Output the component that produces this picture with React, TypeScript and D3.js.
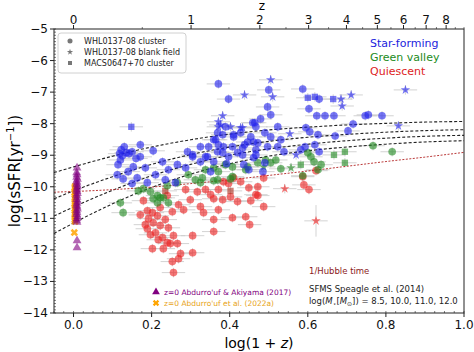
import React from "react";
import * as d3 from "d3";

// ---- data (log(1+z), log sSFR) ----
const blueCircles = [
  [0.122, -8.83], [0.130, -8.73], [0.135, -8.92], [0.120, -9.15], [0.150, -8.89],
  [0.153, -9.37], [0.171, -9.05], [0.204, -8.86], [0.228, -9.21], [0.243, -9.46],
  [0.266, -9.30], [0.287, -9.40], [0.305, -8.99], [0.325, -8.73], [0.338, -9.05],
  [0.359, -8.51], [0.127, -9.75], [0.150, -9.90], [0.189, -9.87], [0.114, -9.30],
  [0.140, -9.52], [0.163, -9.72], [0.184, -9.40], [0.210, -9.62], [0.235, -9.78],
  [0.261, -9.87], [0.171, -8.67], [0.112, -9.62], [0.371, -6.74], [0.397, -7.22],
  [0.410, -8.42], [0.500, -6.93], [0.587, -6.90], [0.629, -7.22], [0.603, -7.53],
  [0.623, -7.75], [0.644, -7.75], [0.667, -7.75], [0.747, -7.75], [0.755, -7.72],
  [0.790, -7.75], [0.716, -8.01], [0.703, -8.23], [0.670, -8.39], [0.626, -8.35],
  [0.595, -8.13], [0.605, -8.26], [0.523, -8.10], [0.505, -7.72], [0.497, -7.47],
  [0.479, -7.85], [0.464, -7.97], [0.454, -8.42], [0.490, -8.29], [0.505, -8.42],
  [0.531, -8.51], [0.438, -8.67], [0.472, -8.61], [0.497, -8.73], [0.523, -8.73],
  [0.593, -8.73], [0.618, -8.67], [0.433, -8.99], [0.467, -8.99], [0.490, -9.24],
  [0.389, -8.10], [0.459, -7.97], [0.467, -8.10], [0.369, -8.29], [0.382, -8.35],
  [0.410, -8.35], [0.428, -8.29], [0.446, -8.58], [0.461, -8.58], [0.364, -8.51],
  [0.371, -8.67], [0.384, -8.73], [0.407, -8.73], [0.433, -8.77], [0.369, -8.89],
  [0.382, -8.92], [0.397, -9.05], [0.467, -8.83], [0.461, -9.08], [0.346, -8.73],
  [0.305, -9.05], [0.325, -9.21], [0.292, -8.89], [0.343, -9.05], [0.359, -9.21],
  [0.436, -9.30], [0.420, -8.92], [0.351, -9.52], [0.392, -9.27], [0.582, -8.83],
  [0.629, -8.89], [0.539, -8.89], [0.485, -9.52], [0.449, -9.46],
  [0.125, -9.02], [0.142, -8.95], [0.118, -8.95], [0.160, -9.10],
];
const blueStars = [
  [0.382, -7.75], [0.377, -8.04], [0.402, -8.10], [0.505, -6.61], [0.510, -7.15],
  [0.438, -7.09], [0.685, -7.22], [0.711, -7.09], [0.688, -7.44], [0.850, -6.93],
  [0.832, -8.07], [0.428, -8.13], [0.554, -8.32], [0.371, -7.94], [0.371, -8.10],
  [0.433, -8.13], [0.570, -8.99],
];
const blueSquares = [[0.148, -8.10], [0.600, -7.18], [0.618, -7.15], [0.665, -7.22]];

const greenCircles = [
  [0.120, -10.51], [0.127, -10.82], [0.179, -10.06], [0.204, -10.38], [0.215, -10.28],
  [0.230, -10.35], [0.243, -10.51], [0.240, -9.97], [0.266, -9.87], [0.325, -9.87],
  [0.359, -9.81], [0.402, -9.75], [0.767, -8.70], [0.816, -8.89], [0.634, -9.30],
  [0.600, -8.92], [0.531, -9.43], [0.505, -9.24], [0.472, -9.24], [0.446, -9.37],
  [0.626, -9.46], [0.338, -9.46], [0.359, -9.40], [0.371, -9.52], [0.389, -9.30],
  [0.407, -9.37], [0.441, -9.46], [0.312, -9.78], [0.330, -9.72], [0.369, -9.78],
  [0.407, -9.68], [0.294, -9.62], [0.166, -10.13], [0.197, -10.16], [0.222, -10.35],
  [0.215, -10.51], [0.492, -9.15], [0.518, -9.15], [0.608, -9.05], [0.616, -9.21],
  [0.587, -9.65],
];
const greenStars = [[0.557, -9.40], [0.487, -9.37]];
const greenSquares = [[0.667, -8.99], [0.695, -8.89], [0.695, -9.24], [0.582, -9.30]];

const redCircles = [
  [0.189, -10.76], [0.202, -10.82], [0.215, -10.92], [0.192, -11.01], [0.204, -11.14],
  [0.222, -11.23], [0.189, -11.33], [0.210, -11.46], [0.228, -11.61], [0.240, -11.77],
  [0.202, -11.96], [0.230, -11.96], [0.248, -11.80], [0.256, -11.55], [0.266, -11.80],
  [0.274, -12.12], [0.269, -12.28], [0.253, -12.37], [0.256, -12.72], [0.305, -12.09],
  [0.305, -11.55], [0.333, -10.82], [0.359, -10.38], [0.179, -10.44], [0.240, -10.28],
  [0.359, -11.42], [0.359, -11.04], [0.325, -10.63], [0.371, -10.73], [0.382, -10.41],
  [0.407, -10.98], [0.441, -10.95], [0.451, -11.20], [0.420, -10.47], [0.402, -10.32],
  [0.351, -10.25], [0.338, -10.09], [0.317, -10.16], [0.371, -10.09], [0.467, -10.25],
  [0.449, -10.03], [0.472, -10.00], [0.487, -9.72], [0.587, -9.68], [0.590, -9.94],
  [0.603, -10.09], [0.487, -10.63], [0.454, -10.44], [0.472, -10.28], [0.621, -9.49],
  [0.397, -9.90], [0.410, -9.72], [0.384, -9.84], [0.428, -9.84], [0.287, -10.09],
  [0.299, -10.41], [0.269, -10.57], [0.253, -10.79], [0.235, -11.04], [0.171, -10.89],
  [0.184, -11.20], [0.197, -11.52], [0.217, -11.68], [0.282, -10.73], [0.222, -10.66],
  [0.243, -11.30],
];
// third value: y error
const redStars = [[0.541, -10.06, 0.15], [0.621, -11.08, 0.5]];
const redSquares = [[0.402, -10.13], [0.235, -10.13]];

const akiyamaTriangles = [
  [0.009, -9.40], [0.008, -9.55], [0.009, -9.62], [0.008, -9.70], [0.010, -9.76],
  [0.008, -9.82], [0.009, -9.88], [0.008, -9.93], [0.010, -9.98], [0.009, -10.04],
  [0.008, -10.10], [0.009, -10.15], [0.010, -10.21], [0.008, -10.27], [0.009, -10.33],
  [0.008, -10.40], [0.010, -10.46], [0.009, -10.52], [0.008, -10.58], [0.009, -10.64],
  [0.010, -10.70], [0.008, -10.76], [0.009, -10.82], [0.008, -10.88], [0.010, -10.94],
  [0.009, -11.00], [0.008, -11.06], [0.009, -11.12], [0.009, -11.71], [0.009, -11.93],
];
const abdurroufX = [
  [0.004, -9.98], [0.003, -10.03], [0.005, -10.08], [0.004, -10.14], [0.003, -10.19],
  [0.005, -10.25], [0.004, -10.30], [0.003, -10.36], [0.005, -10.42], [0.004, -10.47],
  [0.003, -10.53], [0.005, -10.58], [0.004, -10.64], [0.003, -10.70], [0.005, -10.75],
  [0.004, -10.81], [0.003, -10.87], [0.005, -10.93], [0.004, -10.99], [0.003, -11.05],
  [0.004, -11.10], [0.002, -11.45],
];

// model curves sampled at these log(1+z)
const curveX = [-0.05, 0, 0.1, 0.2, 0.3, 0.4, 0.5, 0.6, 0.7, 0.8, 0.9, 1.0];
const sfms85 = [-9.55, -9.37, -9.03, -8.74, -8.51, -8.33, -8.20, -8.11, -8.04, -7.99, -7.95, -7.93];
const sfms100 = [-10.38, -10.13, -9.68, -9.29, -8.98, -8.74, -8.56, -8.43, -8.34, -8.27, -8.22, -8.19];
const sfms110 = [-10.93, -10.64, -10.11, -9.65, -9.29, -9.00, -8.80, -8.65, -8.54, -8.46, -8.40, -8.37];
const sfms120 = [-11.48, -11.15, -10.54, -10.02, -9.60, -9.27, -9.03, -8.86, -8.74, -8.65, -8.58, -8.54];
const hubble = [-10.17, -10.15, -10.09, -10.01, -9.90, -9.78, -9.64, -9.50, -9.35, -9.20, -9.06, -8.91];

const xTicks = [0.0, 0.2, 0.4, 0.6, 0.8, 1.0];
const yTicks = [-14, -13, -12, -11, -10, -9, -8, -7, -6, -5];
const zTicks = [0, 1, 2, 3, 4, 5, 6, 7, 8];

const XERR = 0.03;
const YERR = 0.15;

const W = 474;
const H = 352;
const L = 54, R = 464, T = 29, B = 313;

const BLUE = "#2222ee";
const GREEN = "#228b22";
const RED = "#ee2222";
const FONT = "DejaVu Sans, sans-serif";

export default function App() {
  const x = d3.scaleLinear().domain([-0.05, 1.0]).range([L, R]);
  const y = d3.scaleLinear().domain([-14, -5]).range([B, T]);

  const circle = d3.symbol().type(d3.symbolCircle).size(46)();
  const star = d3.symbol().type(d3.symbolStar).size(28)();
  const square = d3.symbol().type(d3.symbolSquare).size(40)();
  const tri = d3.symbol().type(d3.symbolTriangle).size(34)();
  const cross = d3.symbol().type(d3.symbolCross).size(34)();

  const line = (ys: number[]) =>
    d3.line<number>().x((_, i) => x(curveX[i])).y((d) => y(d)).curve(d3.curveMonotoneX)(ys) || "";

  const minorX = d3.range(-0.05, 1.0001, 0.025);
  const minorY = d3.range(-14, -4.999, 0.1);
  const minorZ = [0.5, 1.5, 2.5, 3.5, 4.5, 5.5, 6.5, 7.5, 8.5, 9];

  const groups: [number[][], string, string][] = [
    [redCircles, circle, RED], [redSquares, square, "#b03020"], [redStars, star, RED],
    [greenCircles, circle, GREEN], [greenSquares, square, GREEN], [greenStars, star, GREEN],
    [blueCircles, circle, BLUE], [blueSquares, square, BLUE], [blueStars, star, BLUE],
  ];

  return (
    <svg width={W} height={H} style={{ position: "absolute", left: 0, top: 0, background: "#fff" }} fontFamily={FONT}>
      {/* error bars */}
      <g stroke="#c8c8c8" strokeWidth={0.8}>
        {groups.map(([pts], gi) =>
          pts.map((p, i) => (
            <g key={`e${gi}-${i}`}>
              <line x1={x(p[0] - XERR)} x2={x(p[0] + XERR)} y1={y(p[1])} y2={y(p[1])} />
              <line x1={x(p[0])} x2={x(p[0])} y1={y(p[1] - (p[2] ?? YERR))} y2={y(p[1] + (p[2] ?? YERR))} />
            </g>
          ))
        )}
      </g>

      {/* model lines */}
      <g fill="none">
        {[sfms85, sfms100, sfms110, sfms120].map((s, i) => (
          <path key={i} d={line(s)} stroke="#222" strokeWidth={1.1} strokeDasharray="3,2" />
        ))}
        <path d={line(hubble)} stroke="#b22222" strokeWidth={0.9} strokeDasharray="2,1.5" />
      </g>

      {/* z=0 samples */}
      {abdurroufX.map((p, i) => (
        <path key={`x${i}`} d={cross} transform={`translate(${x(p[0])},${y(p[1])}) rotate(45)`} fill="orange" fillOpacity={0.85} />
      ))}
      {akiyamaTriangles.map((p, i) => (
        <path key={`t${i}`} d={tri} transform={`translate(${x(p[0])},${y(p[1])})`} fill="#800080" fillOpacity={0.6} />
      ))}

      {/* galaxies */}
      {groups.map(([pts, sym, col], gi) =>
        pts.map((p, i) => (
          <path key={`p${gi}-${i}`} d={sym} transform={`translate(${x(p[0])},${y(p[1])})`} fill={col} fillOpacity={0.62} />
        ))
      )}

      {/* frame */}
      <rect x={L} y={T} width={R - L} height={B - T} fill="none" stroke="#222" strokeWidth={1} />

      {/* ticks */}
      <g stroke="#222">
        {minorX.map((v, i) => <line key={i} x1={x(v)} x2={x(v)} y1={B} y2={B - 2} strokeWidth={0.6} />)}
        {xTicks.map((v) => <line key={v} x1={x(v)} x2={x(v)} y1={B} y2={B + 4} />)}
        {minorY.map((v, i) => <line key={i} x1={L} x2={L + 2} y1={y(v)} y2={y(v)} strokeWidth={0.6} />)}
        {yTicks.map((v) => <line key={v} x1={L} x2={L - 4} y1={y(v)} y2={y(v)} />)}
        {minorZ.map((v, i) => <line key={i} x1={x(Math.log10(1 + v))} x2={x(Math.log10(1 + v))} y1={T} y2={T - 2} strokeWidth={0.6} />)}
        {zTicks.map((v) => <line key={v} x1={x(Math.log10(1 + v))} x2={x(Math.log10(1 + v))} y1={T} y2={T - 4} />)}
      </g>
      <g fontSize={12} fill="#111">
        {xTicks.map((v) => (
          <text key={v} x={x(v)} y={B + 16} textAnchor="middle">{v.toFixed(1)}</text>
        ))}
        {yTicks.map((v) => (
          <text key={v} x={L - 6} y={y(v) + 4} textAnchor="end">{"\u2212" + Math.abs(v)}</text>
        ))}
        {zTicks.map((v) => (
          <text key={v} x={x(Math.log10(1 + v))} y={T - 5} textAnchor="middle">{v}</text>
        ))}
      </g>
      <text x={x(Math.log10(3)) + 2} y={10} fontSize={12} textAnchor="middle">z</text>
      <text x={(L + R) / 2} y={348} fontSize={14} textAnchor="middle">
        log(1 + <tspan fontStyle="italic">z</tspan>)
      </text>
      <text transform={`translate(20,${(T + B) / 2}) rotate(-90)`} fontSize={15} textAnchor="middle">
        log(sSFR[yr<tspan dy={-6} fontSize={10}>{"\u22121"}</tspan><tspan dy={6}>])</tspan>
      </text>

      {/* upper-left legend */}
      <rect x={58} y={33} width={128} height={40} rx={3} fill="#fff" fillOpacity={0.8} stroke="#d0d0d0" />
      <g fill="#777">
        <path d={d3.symbol().type(d3.symbolCircle).size(20)()} transform="translate(70,41)" />
        <path d={d3.symbol().type(d3.symbolStar).size(12)()} transform="translate(70,52)" />
        <path d={d3.symbol().type(d3.symbolSquare).size(16)()} transform="translate(70,63)" />
      </g>
      <g fontSize={8} fill="#222">
        <text x={84} y={44}>WHL0137-08 cluster</text>
        <text x={84} y={55}>WHL0137-08 blank field</text>
        <text x={84} y={66}>MACS0647+70 cluster</text>
      </g>

      {/* class labels */}
      <g fontSize={11}>
        <text x={370} y={47} fill="#2222dd">Star-forming</text>
        <text x={370} y={61} fill="#228b22">Green valley</text>
        <text x={370} y={75} fill="#dd2222">Quiescent</text>
      </g>

      {/* lower legend */}
      <path d={d3.symbol().type(d3.symbolTriangle).size(26)()} transform="translate(156,292)" fill="#800080" />
      <path d={d3.symbol().type(d3.symbolCross).size(26)()} transform="translate(156,303) rotate(45)" fill="orange" />
      <g fontSize={7.5}>
        <text x={164} y={295} fill="#800080">z=0 Abdurro'uf &amp; Akiyama (2017)</text>
        <text x={164} y={306} fill="#e8a317">z=0 Abdurro'uf et al. (2022a)</text>
      </g>
      <g fontSize={8.5}>
        <text x={309} y={274} fill="#8b1a1a">1/Hubble time</text>
        <text x={309} y={292} fill="#222">SFMS Speagle et al. (2014)</text>
        <text x={309} y={304} fill="#222">
          log(<tspan fontStyle="italic">M</tspan><tspan dy={2} fontSize={6}>{"\u22c6"}</tspan>
          <tspan dy={-2}>[</tspan><tspan fontStyle="italic">M</tspan><tspan dy={2} fontSize={6}>{"\u2299"}</tspan>
          <tspan dy={-2}>]) = 8.5, 10.0, 11.0, 12.0</tspan>
        </text>
      </g>
    </svg>
  );
}
